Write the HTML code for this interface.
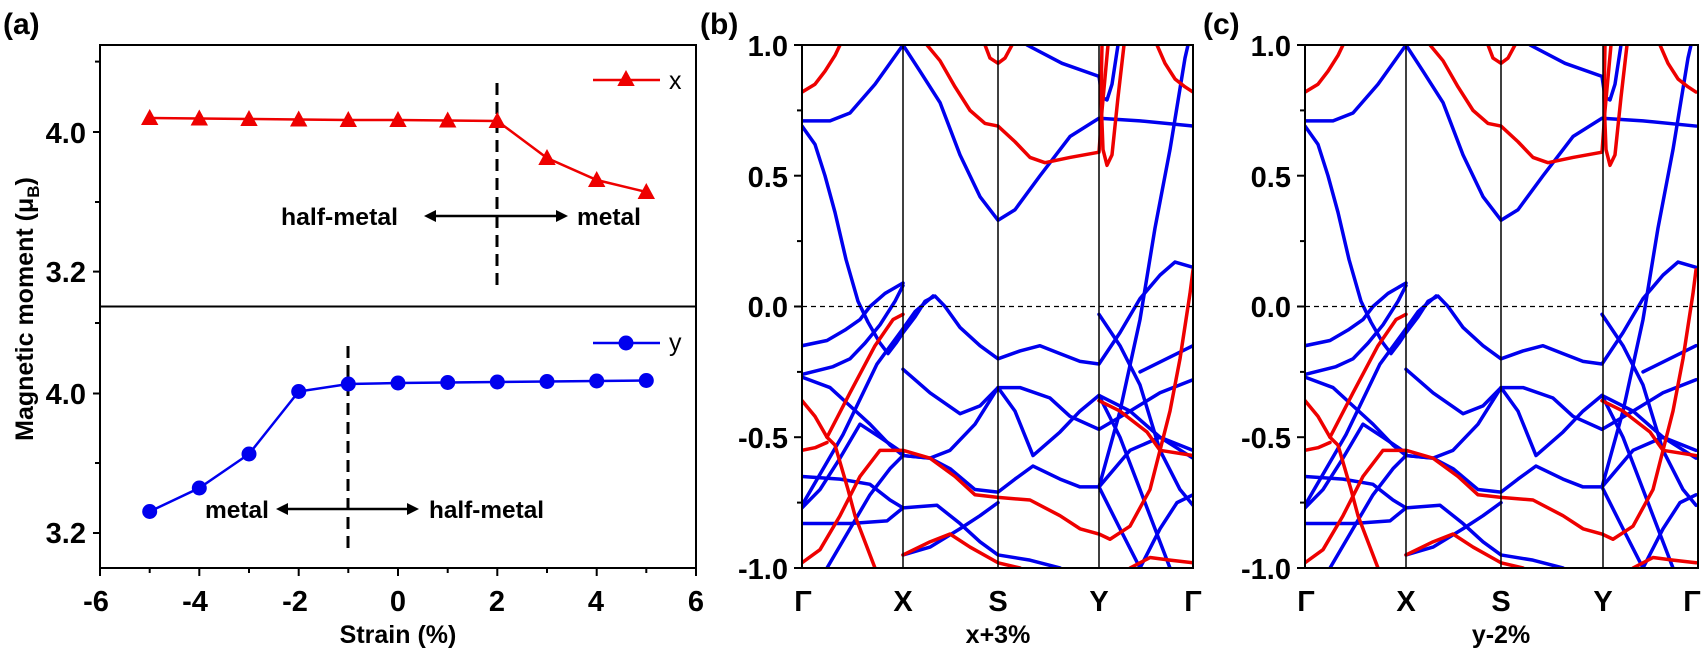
<!DOCTYPE html>
<html><head><meta charset="utf-8"><style>
html,body{margin:0;padding:0;background:#fff;}
svg{display:block;font-family:"Liberation Sans",Arial,sans-serif;font-weight:bold;}
.bl{fill:none;stroke:#0000ee;stroke-width:3.5;stroke-linejoin:round;stroke-linecap:round;}
.rd{fill:none;stroke:#ee0000;stroke-width:3.5;stroke-linejoin:round;stroke-linecap:round;}
</style></head><body>
<svg width="1704" height="650" viewBox="0 0 1704 650" xmlns="http://www.w3.org/2000/svg">
<defs>
<clipPath id="cb"><rect x="802" y="45" width="391" height="523"/></clipPath>
<clipPath id="cc"><rect x="1305" y="45" width="393" height="523"/></clipPath>
<g id="common">
 <polyline vector-effect="non-scaling-stroke" class="bl" points="0,71 28,71 48,74 73,85 101,100 118,90 138,78 158,58 178,42 196,33 213,37 238,50 268,65 297,72 338,71 391,69"/>
 <polyline vector-effect="non-scaling-stroke" class="bl" points="0,69 13,62 23,50 33,36 44,18 56,2 66,-6 78,-14 86,-18 94,-14 101,-10 113,-4 123,2 133,4 143,0 158,-8 178,-15 196,-20 218,-17 238,-15 258,-18 278,-21 297,-22 318,-10 338,3 358,12 373,17 391,15"/>
 <polyline vector-effect="non-scaling-stroke" class="bl" points="0,-15 25,-13 43,-9 58,-5 68,0 83,5 101,9"/>
 <polyline vector-effect="non-scaling-stroke" class="bl" points="0,-26 31,-23 48,-20 63,-14 78,-7 93,2 101,8"/>
 <polyline vector-effect="non-scaling-stroke" class="bl" points="0,-27 28,-31 48,-38 68,-45 88,-53 101,-57 128,-58 148,-55 173,-45 196,-31 218,-31 248,-35 268,-42 297,-47 328,-40 358,-33 391,-28"/>
 <polyline vector-effect="non-scaling-stroke" class="bl" points="101,-24 128,-33 158,-41 178,-38 196,-31"/>
 <polyline vector-effect="non-scaling-stroke" class="bl" points="0,-76 41,-49 75,-22 100,-9 113,-2 131,4"/>
 <polyline vector-effect="non-scaling-stroke" class="bl" points="196,-31 213,-40 231,-57 258,-48 278,-40 297,-34 328,-40 358,-50 391,-58"/>
 <polyline vector-effect="non-scaling-stroke" class="bl" points="101,-57 128,-58 148,-62 173,-70 196,-71 213,-66 231,-61 258,-66 278,-69 297,-69 328,-55 358,-50 391,-55"/>
 <polyline vector-effect="non-scaling-stroke" class="bl" points="0,-65 38,-66 68,-68 88,-74 101,-77 135,-76 158,-83 178,-90 196,-95 228,-97 258,-100"/>
 <polyline vector-effect="non-scaling-stroke" class="bl" points="0,-83 48,-83 85,-82 101,-77"/>
 <polyline vector-effect="non-scaling-stroke" class="bl" points="0,-77 18,-70 38,-58 58,-45 78,-50 101,-56"/>
 <polyline vector-effect="non-scaling-stroke" class="bl" points="25,-100 48,-85 68,-72 88,-62 101,-57"/>
 <polyline vector-effect="non-scaling-stroke" class="bl" points="101,-95 128,-92 158,-85 178,-80 196,-75"/>
 <polyline vector-effect="non-scaling-stroke" class="bl" points="225,100 260,93 297,88 300,80 305,79 310,85 316,100"/>
 <polyline vector-effect="non-scaling-stroke" class="bl" points="297,-69 318,-40 338,-5 353,30 368,60 383,95 386,100"/>
 <polyline vector-effect="non-scaling-stroke" class="bl" points="297,-34 318,-50 338,-70 358,-90 368,-100"/>
 <polyline vector-effect="non-scaling-stroke" class="bl" points="297,-69 318,-85 338,-100"/>
 <polyline vector-effect="non-scaling-stroke" class="bl" points="338,-25 391,-15"/>
 <polyline vector-effect="non-scaling-stroke" class="bl" points="338,-100 358,-85 375,-75 391,-72"/>
 <polyline vector-effect="non-scaling-stroke" class="bl" points="297,-3 318,-15 338,-30 358,-55 378,-70 391,-76"/>
 <polyline vector-effect="non-scaling-stroke" class="rd" points="0,82 13,85 23,90 33,96 38,100"/>
 <polyline vector-effect="non-scaling-stroke" class="rd" points="125,100 138,94 153,84 168,75 183,70 196,69 213,63 228,57 243,55 268,57 297,59 300,75 306,100"/>
 <polyline vector-effect="non-scaling-stroke" class="rd" points="300,100 299,80 301,60 305,54 310,58 316,80 322,100"/>
 <polyline vector-effect="non-scaling-stroke" class="rd" points="355,100 363,93 373,87 383,84 391,82"/>
 <polyline vector-effect="non-scaling-stroke" class="rd" points="183,100 188,95 196,93 203,95 210,100"/>
 <polyline vector-effect="non-scaling-stroke" class="rd" points="25,-50 48,-33 73,-15 91,-5 101,-3"/>
 <polyline vector-effect="non-scaling-stroke" class="rd" points="0,-36 13,-42 25,-50 33,-53 46,-70 53,-80 63,-90 73,-100"/>
 <polyline vector-effect="non-scaling-stroke" class="rd" points="0,-55 13,-54 25,-52"/>
 <polyline vector-effect="non-scaling-stroke" class="rd" points="0,-98 18,-93 38,-80 58,-65 78,-55 101,-55 128,-58 153,-65 173,-72 196,-73 228,-74 258,-80 278,-85 297,-87 308,-89 328,-84 348,-70 368,-40 378,-20 388,5 391,14"/>
 <polyline vector-effect="non-scaling-stroke" class="rd" points="101,-95 128,-90 148,-87 168,-92 196,-98 218,-100"/>
 <polyline vector-effect="non-scaling-stroke" class="rd" points="297,-36 318,-40 345,-48 358,-55 391,-57"/>
 <polyline vector-effect="non-scaling-stroke" class="rd" points="328,-100 348,-96 368,-97 391,-98"/>
</g>
</defs>

<!-- ===== Panel (a) ===== -->
<text x="3" y="34" font-size="30">(a)</text>
<rect x="100" y="45" width="596" height="523" fill="none" stroke="#000" stroke-width="2"/>
<line x1="100" y1="306.5" x2="696" y2="306.5" stroke="#000" stroke-width="2"/>
<g stroke="#000" stroke-width="2">
 <line x1="93" y1="132" x2="100" y2="132"/><line x1="93" y1="271.6" x2="100" y2="271.6"/>
 <line x1="95" y1="61.6" x2="100" y2="61.6"/><line x1="95" y1="202" x2="100" y2="202"/>
 <line x1="93" y1="393.5" x2="100" y2="393.5"/><line x1="93" y1="533" x2="100" y2="533"/>
 <line x1="95" y1="323" x2="100" y2="323"/><line x1="95" y1="463" x2="100" y2="463"/>
 <line x1="100" y1="568" x2="100" y2="576"/><line x1="149.7" y1="568" x2="149.7" y2="573"/>
 <line x1="199.3" y1="568" x2="199.3" y2="576"/><line x1="249" y1="568" x2="249" y2="573"/>
 <line x1="298.7" y1="568" x2="298.7" y2="576"/><line x1="348.3" y1="568" x2="348.3" y2="573"/>
 <line x1="398" y1="568" x2="398" y2="576"/><line x1="447.7" y1="568" x2="447.7" y2="573"/>
 <line x1="497.3" y1="568" x2="497.3" y2="576"/><line x1="547" y1="568" x2="547" y2="573"/>
 <line x1="596.7" y1="568" x2="596.7" y2="576"/><line x1="646.3" y1="568" x2="646.3" y2="573"/>
 <line x1="696" y1="568" x2="696" y2="576"/>
</g>
<g font-size="29" text-anchor="end">
 <text x="86" y="143">4.0</text><text x="86" y="282">3.2</text>
 <text x="86" y="404">4.0</text><text x="86" y="543">3.2</text>
</g>
<g font-size="29" text-anchor="middle">
 <text x="96" y="611">-6</text><text x="195" y="611">-4</text><text x="295" y="611">-2</text>
 <text x="398" y="611">0</text><text x="497" y="611">2</text><text x="596" y="611">4</text><text x="696" y="611">6</text>
</g>
<text x="398" y="643" font-size="25" text-anchor="middle">Strain (%)</text>
<text transform="translate(33,309) rotate(-90)" font-size="25" text-anchor="middle">Magnetic moment (μ<tspan font-size="17" dy="6">B</tspan><tspan dy="-6">)</tspan></text>

<line x1="497" y1="83" x2="497" y2="289" stroke="#000" stroke-width="3" stroke-dasharray="12,7"/>
<line x1="348" y1="346" x2="348" y2="553" stroke="#000" stroke-width="3" stroke-dasharray="12,7"/>
<g stroke="#000" stroke-width="2.5" fill="#000">
 <line x1="428" y1="216" x2="564" y2="216"/>
 <polygon points="424,216 436,210 436,222" stroke="none"/><polygon points="568,216 556,210 556,222" stroke="none"/>
 <line x1="280" y1="509" x2="415" y2="509"/>
 <polygon points="276,509 288,503 288,515" stroke="none"/><polygon points="419,509 407,503 407,515" stroke="none"/>
</g>
<g font-size="24">
 <text x="281" y="225" textLength="117" lengthAdjust="spacingAndGlyphs">half-metal</text><text x="577" y="225" textLength="64" lengthAdjust="spacingAndGlyphs">metal</text>
 <text x="205" y="518" textLength="64" lengthAdjust="spacingAndGlyphs">metal</text><text x="429" y="518" textLength="115" lengthAdjust="spacingAndGlyphs">half-metal</text>
</g>
<polyline fill="none" stroke="#ee0000" stroke-width="2.5" points="149.7,118 199.3,118.5 249,119 298.7,119.5 348.3,120 398,120 447.7,120.5 497.3,121 547,158 596.7,180 646.3,192"/>
<g fill="#ee0000">
 <polygon points="149.7,109 141,125 158.4,125"/><polygon points="199.3,109.5 190.6,125.5 208,125.5"/>
 <polygon points="249,110 240.3,126 257.7,126"/><polygon points="298.7,110.5 290,126.5 307.4,126.5"/>
 <polygon points="348.3,111 339.6,127 357,127"/><polygon points="398,111 389.3,127 406.7,127"/>
 <polygon points="447.7,111.5 439,127.5 456.4,127.5"/><polygon points="497.3,112 488.6,128 506,128"/>
 <polygon points="547,149 538.3,165 555.7,165"/><polygon points="596.7,171 588,187 605.4,187"/>
 <polygon points="646.3,183 637.6,199 655,199"/>
 <polygon points="626,70 617.3,86 634.7,86"/>
</g>
<line x1="593" y1="80" x2="660" y2="80" stroke="#ee0000" stroke-width="2.5"/>
<text x="669" y="89" font-size="25" font-weight="normal">x</text>
<polyline fill="none" stroke="#0000ee" stroke-width="2.5" points="149.7,511.5 199.3,488 249,454 298.7,391.5 348.3,384 398,383 447.7,382.5 497.3,382 547,381.5 596.7,381 646.3,380.5"/>
<g fill="#0000ee">
 <circle cx="149.7" cy="511.5" r="7.5"/><circle cx="199.3" cy="488" r="7.5"/><circle cx="249" cy="454" r="7.5"/>
 <circle cx="298.7" cy="391.5" r="7.5"/><circle cx="348.3" cy="384" r="7.5"/><circle cx="398" cy="383" r="7.5"/>
 <circle cx="447.7" cy="382.5" r="7.5"/><circle cx="497.3" cy="382" r="7.5"/><circle cx="547" cy="381.5" r="7.5"/>
 <circle cx="596.7" cy="381" r="7.5"/><circle cx="646.3" cy="380.5" r="7.5"/>
 <circle cx="626" cy="343" r="7.5"/>
</g>
<line x1="593" y1="343" x2="660" y2="343" stroke="#0000ee" stroke-width="2.5"/>
<text x="669" y="351" font-size="25" font-weight="normal">y</text>

<!-- ===== Panel (b) ===== -->
<text x="700" y="34" font-size="30">(b)</text>
<g clip-path="url(#cb)">
 <g transform="translate(802,306.5) scale(1,-2.615)"><use href="#common"/></g>
</g>
<line x1="802" y1="306.5" x2="1193" y2="306.5" stroke="#000" stroke-width="1.2" stroke-dasharray="5,4"/>
<g stroke="#000" stroke-width="1.5">
 <line x1="903" y1="45" x2="903" y2="568"/><line x1="998" y1="45" x2="998" y2="568"/><line x1="1099" y1="45" x2="1099" y2="568"/>
</g>
<rect x="802" y="45" width="391" height="523" fill="none" stroke="#000" stroke-width="2"/>
<g stroke="#000" stroke-width="2">
 <line x1="794" y1="45" x2="802" y2="45"/><line x1="794" y1="175.7" x2="802" y2="175.7"/><line x1="794" y1="306.5" x2="802" y2="306.5"/>
 <line x1="794" y1="437.2" x2="802" y2="437.2"/><line x1="794" y1="568" x2="802" y2="568"/>
 <line x1="797" y1="110.4" x2="802" y2="110.4"/><line x1="797" y1="241.1" x2="802" y2="241.1"/>
 <line x1="797" y1="371.9" x2="802" y2="371.9"/><line x1="797" y1="502.6" x2="802" y2="502.6"/>
</g>
<g font-size="29" text-anchor="end">
 <text x="788" y="56">1.0</text><text x="788" y="187">0.5</text><text x="788" y="317">0.0</text>
 <text x="788" y="448">-0.5</text><text x="788" y="579">-1.0</text>
</g>
<g font-size="29" text-anchor="middle">
 <text x="803" y="611">Γ</text><text x="903" y="611">X</text><text x="998" y="611">S</text><text x="1099" y="611">Y</text><text x="1193" y="611">Γ</text>
</g>
<text x="998" y="643" font-size="25" text-anchor="middle">x+3%</text>

<!-- ===== Panel (c) ===== -->
<text x="1203" y="34" font-size="30">(c)</text>
<g clip-path="url(#cc)">
 <g transform="translate(1305,306.5) scale(1,-2.615)"><use href="#common"/></g>
</g>
<line x1="1305" y1="306.5" x2="1698" y2="306.5" stroke="#000" stroke-width="1.2" stroke-dasharray="5,4"/>
<g stroke="#000" stroke-width="1.5">
 <line x1="1406" y1="45" x2="1406" y2="568"/><line x1="1501" y1="45" x2="1501" y2="568"/><line x1="1603" y1="45" x2="1603" y2="568"/>
</g>
<rect x="1305" y="45" width="393" height="523" fill="none" stroke="#000" stroke-width="2"/>
<g stroke="#000" stroke-width="2">
 <line x1="1297" y1="45" x2="1305" y2="45"/><line x1="1297" y1="175.7" x2="1305" y2="175.7"/><line x1="1297" y1="306.5" x2="1305" y2="306.5"/>
 <line x1="1297" y1="437.2" x2="1305" y2="437.2"/><line x1="1297" y1="568" x2="1305" y2="568"/>
 <line x1="1300" y1="110.4" x2="1305" y2="110.4"/><line x1="1300" y1="241.1" x2="1305" y2="241.1"/>
 <line x1="1300" y1="371.9" x2="1305" y2="371.9"/><line x1="1300" y1="502.6" x2="1305" y2="502.6"/>
</g>
<g font-size="29" text-anchor="end">
 <text x="1291" y="56">1.0</text><text x="1291" y="187">0.5</text><text x="1291" y="317">0.0</text>
 <text x="1291" y="448">-0.5</text><text x="1291" y="579">-1.0</text>
</g>
<g font-size="29" text-anchor="middle">
 <text x="1306" y="611">Γ</text><text x="1406" y="611">X</text><text x="1501" y="611">S</text><text x="1603" y="611">Y</text><text x="1692" y="611">Γ</text>
</g>
<text x="1501" y="643" font-size="25" text-anchor="middle">y-2%</text>
</svg>
</body></html>
